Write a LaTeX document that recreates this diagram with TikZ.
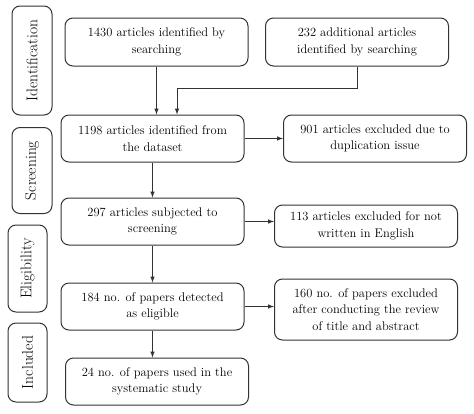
\documentclass[tikz,border=0pt]{standalone}
\usetikzlibrary{shapes,arrows,positioning,calc}

\begin{document}
\begin{tikzpicture}[x=1pt, y=-1pt,
    box/.style={draw=black!80, line width=1pt, rounded corners=8pt, align=center,
        minimum width=183pt, font=\fontsize{12.5}{16.7}\selectfont, inner sep=2pt},
    stagebox/.style={draw=black!80, line width=1pt, rounded corners=8pt, rotate=90,
        font=\fontsize{15.5}{18}\selectfont, inner sep=0pt},
    flow/.style={-latex, line width=1pt, draw=black!80}]

    % Canvas
    \useasboundingbox (0,0) rectangle (474,413);

    % Stage labels
    \node[stagebox, minimum width=109pt, minimum height=40pt] (ident) at (32,60.5) {Identification};
    \node[stagebox, minimum width=86pt, minimum height=40pt] (screen) at (32,170.5) {Screening};
    \node[stagebox, minimum width=87pt, minimum height=39pt] (elig) at (27.5,268.5) {Eligibility};
    \node[stagebox, minimum width=79pt, minimum height=39pt] (incl) at (27.5,362.5) {Included};

    % Main flow
    \node[box, minimum height=48pt] (search) at (156.5,42) {1430 articles identified by\\searching};
    \node[box, minimum height=48pt] (extra) at (357,42) {232 additional articles\\identified by searching};
    \node[box, minimum height=47pt] (dataset) at (152.5,138.5) {1198 articles identified from\\the dataset};
    \node[box, minimum height=47pt] (screened) at (152.5,221.5) {297 articles subjected to\\screening};
    \node[box, minimum height=47pt] (eligible) at (152.5,306.5) {184 no. of papers detected\\as eligible};
    \node[box, minimum height=47pt] (included) at (157,381.5) {24 no. of papers used in the\\systematic study};

    % Exclusions
    \node[box, minimum height=47pt] (dupl) at (375,138.5) {901 articles excluded due to\\duplication issue};
    \node[box, minimum height=42pt] (lang) at (366,226) {113 articles excluded for not\\written in English};
    \node[box, minimum height=61pt] (review) at (366,309.5) {160 no. of papers excluded\\after conducting the review\\of title and abstract};

    % Arrows
    \coordinate (join) at (177,88);
    \draw[flow] (search.south) -- (search.south |- dataset.north);
    \draw[flow] (extra.south) |- (join) -- (join |- dataset.north);
    \draw[flow] (dataset.south) -- (screened.north);
    \draw[flow] (screened.south) -- (eligible.north);
    \draw[flow] (eligible.south) -- (eligible.south |- included.north);
    \draw[flow] (dataset.east) -- (dupl.west);
    \draw[flow] (screened.east) -- (screened.east -| lang.west);
    \draw[flow] (eligible.east) -- (eligible.east -| review.west);
\end{tikzpicture}
\end{document}
